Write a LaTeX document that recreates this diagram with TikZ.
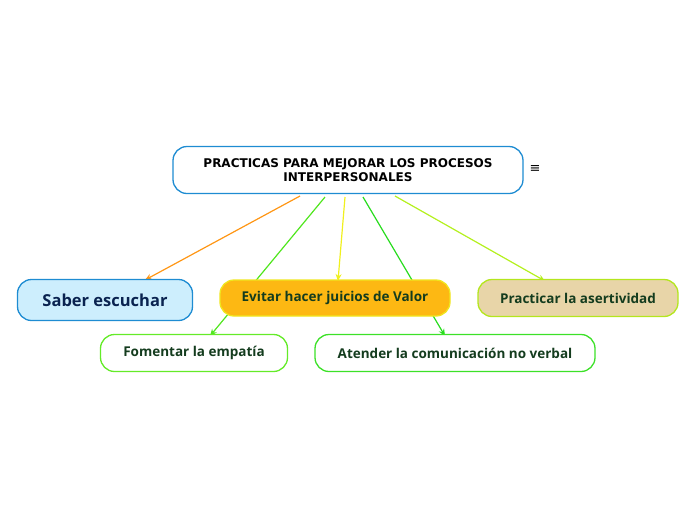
\documentclass[tikz,border=0pt]{standalone}
\usepackage{fontspec}
\usetikzlibrary{arrows.meta}
\setmainfont{Open Sans}
\newfontfamily\rootfont{DejaVu Sans}
\begin{document}
\begin{tikzpicture}[x=1pt,y=-1pt,
  box/.style={draw,rounded corners=14pt,line width=1.3pt,minimum height=#1,align=center,font=\bfseries},
  conn/.style={line width=1.2pt,-{Stealth[length=7pt,width=6pt]}}]
\useasboundingbox (0,0) rectangle (696,520);
\coordinate (r1) at (300,196); \coordinate (r2) at (325,197);
\coordinate (r3) at (345,197); \coordinate (r4) at (363,197);
\coordinate (r5) at (395,196);
\coordinate (t1) at (145,280); \coordinate (t2) at (210,336);
\coordinate (t3) at (338,281); \coordinate (t4) at (445,336);
\coordinate (t5) at (545,281);
\draw[conn,color={rgb,255:red,255;green,150;blue,20}] (r1) -- (t1);
\draw[conn,color={rgb,255:red,80;green,230;blue,30}] (r2) -- (t2);
\draw[conn,color={rgb,255:red,240;green,240;blue,30}] (r3) -- (t3);
\draw[conn,color={rgb,255:red,40;green,220;blue,30}] (r4) -- (t4);
\draw[conn,color={rgb,255:red,180;green,240;blue,30}] (r5) -- (t5);
\node[box=47pt,minimum width=350pt,fill=white,draw={rgb,255:red,30;green,140;blue,210},font=\rootfont\bfseries\fontsize{12}{14}\selectfont] (root) at (348,170) {PRACTICAS PARA MEJORAR LOS PROCESOS\\INTERPERSONALES};
\node[font=\rootfont\fontsize{13}{15}\selectfont] (menu) at (535,169) {≡};
\node[box=41pt,minimum width=175pt,fill={rgb,255:red,205;green,238;blue,253},draw={rgb,255:red,30;green,140;blue,210},text={rgb,255:red,10;green,35;blue,80},font=\bfseries\fontsize{16.5}{19}\selectfont] (saber) at (105,300) {Saber escuchar};
\node[box=36pt,minimum width=230pt,fill={rgb,255:red,253;green,184;blue,19},draw={rgb,255:red,240;green,230;blue,30},text={rgb,255:red,20;green,60;blue,30},font=\bfseries\fontsize{13.5}{16}\selectfont] (evitar) at (335,298) {Evitar hacer juicios de Valor};
\node[box=37pt,minimum width=200pt,fill={rgb,255:red,232;green,213;blue,168},draw={rgb,255:red,180;green,230;blue,30},text={rgb,255:red,20;green,60;blue,30},font=\bfseries\fontsize{13.5}{16}\selectfont] (pract) at (578,298) {Practicar la asertividad};
\node[box=37pt,minimum width=187pt,fill=white,draw={rgb,255:red,100;green,235;blue,40},text={rgb,255:red,20;green,60;blue,30},font=\bfseries\fontsize{13.5}{16}\selectfont] (foment) at (194,353) {Fomentar la empatía};
\node[box=37pt,minimum width=280pt,fill=white,draw={rgb,255:red,60;green,225;blue,40},text={rgb,255:red,20;green,60;blue,30},font=\bfseries\fontsize{13.5}{16}\selectfont] (atender) at (455,353) {Atender la comunicación no verbal};
\end{tikzpicture}
\end{document}
